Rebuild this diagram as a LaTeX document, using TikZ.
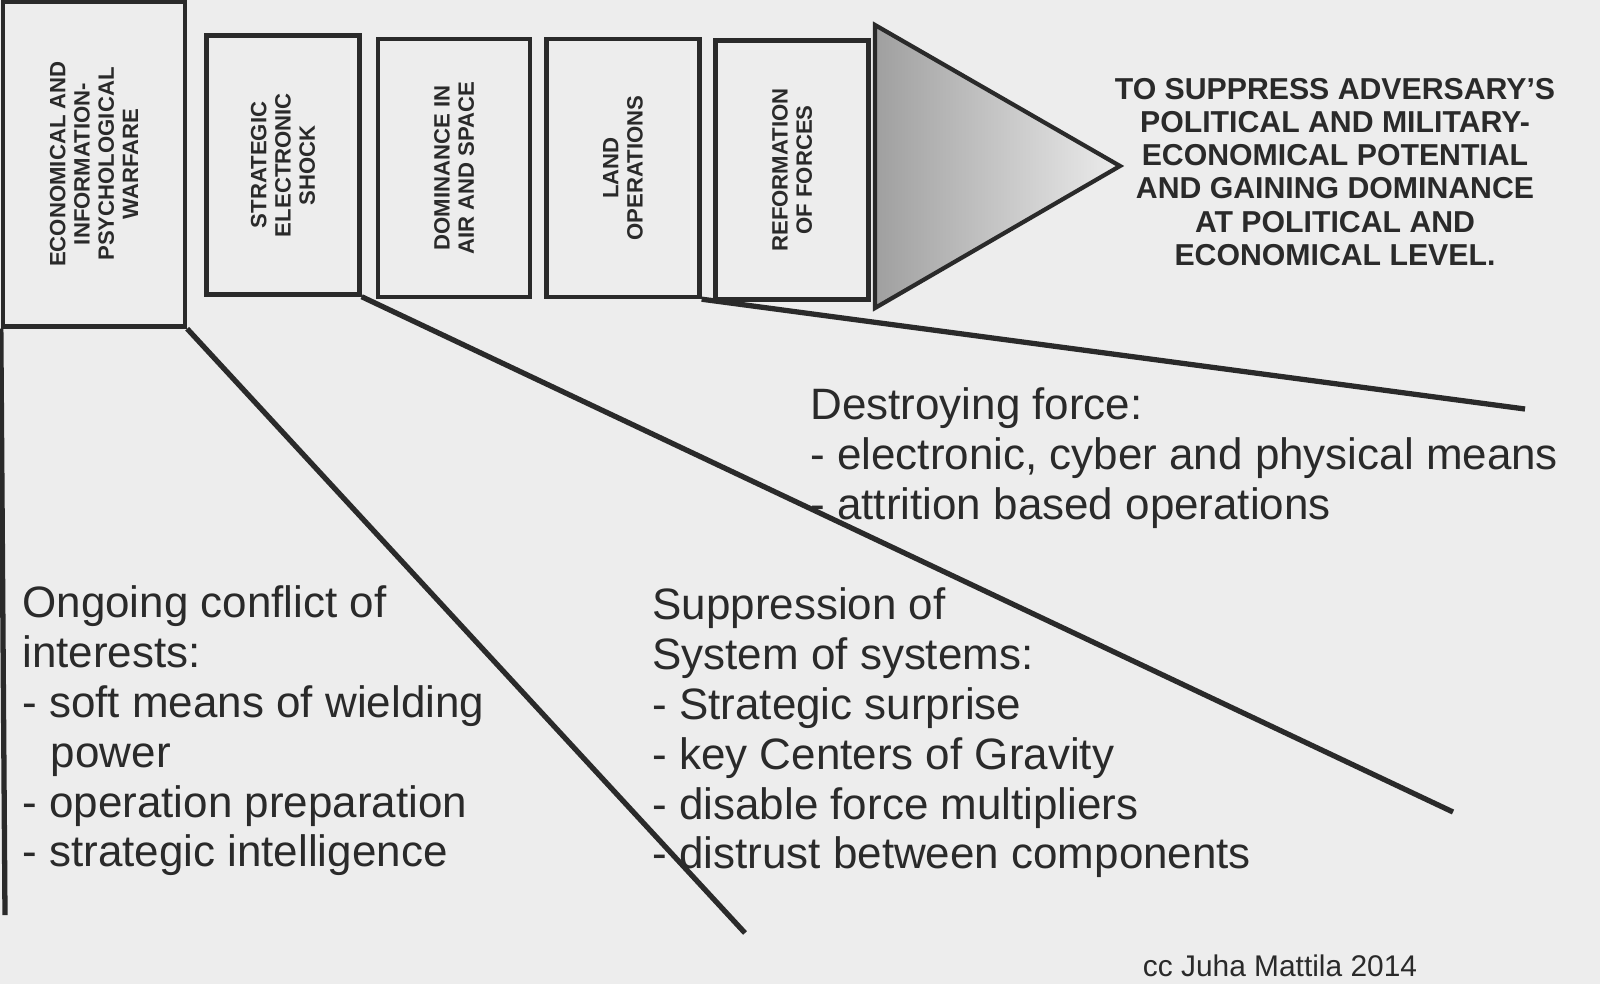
\documentclass[tikz,border=0pt]{standalone}
\usepackage{fontspec}
\setmainfont{Liberation Sans}
\usepackage{tikz}
\usetikzlibrary{positioning}
\definecolor{bg}{HTML}{EDEDED}
\definecolor{ink}{HTML}{2A2A2A}
\begin{document}
\begin{tikzpicture}[
    x=0.01cm, y=-0.01cm,
    phase/.style={rectangle, draw=ink, line width=1.2pt, fill=bg, inner sep=0pt},
    vlabel/.style={rotate=90, align=center, font=\fontsize{6.3}{6.9}\selectfont\bfseries, text=ink},
    goal/.style={align=center, font=\fontsize{8.6}{9.4}\selectfont\bfseries, text=ink},
    note/.style={anchor=north west, align=left, font=\fontsize{12.5}{14.2}\selectfont, text=ink},
    cone/.style={draw=ink, line width=1.5pt}
]
\fill[bg] (0,0) rectangle (1600,984);
\useasboundingbox (0,0) rectangle (1600,984);
% Boxes
\node[phase, minimum width=1.82cm, minimum height=3.25cm] (econ) at (94,164) {};
\node[phase, minimum width=1.53cm, minimum height=2.59cm] (shock) at (283,165) {};
\node[phase, minimum width=1.52cm, minimum height=2.58cm] (air) at (454,168) {};
\node[phase, minimum width=1.53cm, minimum height=2.58cm] (land) at (623,168) {};
\node[phase, minimum width=1.53cm, minimum height=2.59cm] (reform) at (792,170) {};
\node[vlabel] at (econ) {ECONOMICAL AND\\INFORMATION-\\PSYCHOLOGICAL\\WARFARE};
\node[vlabel] at (shock) {STRATEGIC\\ELECTRONIC\\SHOCK};
\node[vlabel] at (air) {DOMINANCE IN\\AIR AND SPACE};
\node[vlabel] at (land) {LAND\\OPERATIONS};
\node[vlabel] at (reform) {REFORMATION\\OF FORCES};
% Arrow head
\shade[left color=gray!75, right color=gray!15, draw=ink, line width=1.2pt]
    (875,25) -- (1120,166) -- (875,308) -- cycle;
\node[goal] (goal) at (1335,172) {TO SUPPRESS ADVERSARY’S\\POLITICAL AND MILITARY-\\ECONOMICAL POTENTIAL\\AND GAINING DOMINANCE\\AT POLITICAL AND\\ECONOMICAL LEVEL.};
% Cone lines
\coordinate (e1) at (5,915);
\coordinate (e2) at (745,933);
\coordinate (e3) at (1453,812);
\coordinate (e4) at (1525,409);
\draw[cone] (econ.south west) -- (e1);
\draw[cone] (econ.south east) -- (e2);
\draw[cone] (shock.south east) -- (e3);
\draw[cone] (land.south east) -- (e4);
% Notes
\node[note] (destroy) at (798,375) {Destroying force:\\- electronic, cyber and physical means\\- attrition based operations};
\node[note] (suppress) at (640,575) {Suppression of\\System of systems:\\- Strategic surprise\\- key Centers of Gravity\\- disable force multipliers\\- distrust between components};
\node[note] (ongoing) at (10,573) {Ongoing conflict of\\interests:\\- soft means of wielding\\\hspace*{0.65em}power\\- operation preparation\\- strategic intelligence};
\node[font=\fontsize{8.5}{9}\selectfont, text=ink] (credit) at (1280,966) {cc Juha Mattila 2014};
\end{tikzpicture}
\end{document}
